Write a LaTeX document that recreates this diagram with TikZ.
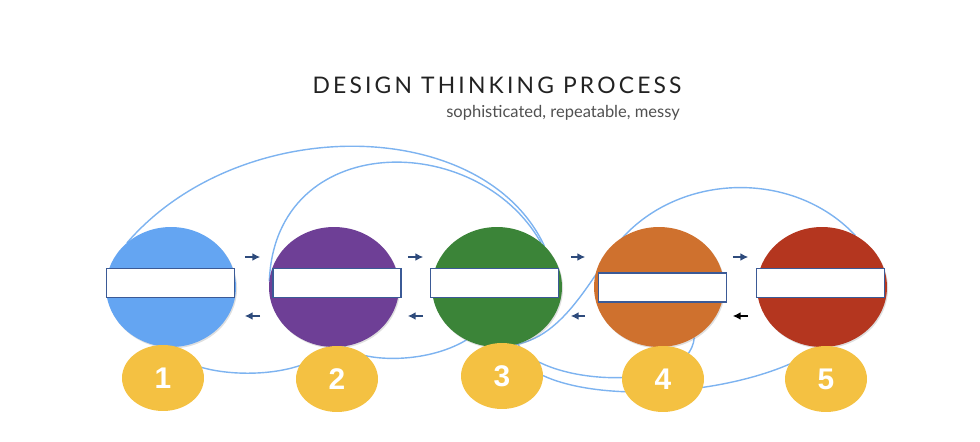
\documentclass[tikz,border=0pt]{standalone}
\usepackage{fontspec}
\usetikzlibrary{shapes.geometric,arrows.meta,backgrounds,shadows}
\newfontfamily\titlefont{Lato}
\newfontfamily\headfont[LetterSpace=14]{Lato}
\newfontfamily\numfont{Liberation Sans}
\definecolor{stepblue}{HTML}{64A5F2}
\definecolor{steppurple}{HTML}{6E3F96}
\definecolor{stepgreen}{HTML}{3B8438}
\definecolor{steporange}{HTML}{CF712E}
\definecolor{stepred}{HTML}{B4361F}
\definecolor{numyellow}{HTML}{F4C142}
\definecolor{loopblue}{HTML}{7DB3F0}
\definecolor{arrownavy}{HTML}{2E4B7C}
\definecolor{boxedge}{HTML}{3B5A96}
\definecolor{titlegray}{HTML}{222222}
\definecolor{subgray}{HTML}{505050}

\tikzset{
	phase/.style={ellipse, minimum width=2.6cm, minimum height=2.4cm, inner sep=0pt, outer sep=0pt,
		drop shadow={opacity=0.25, shadow xshift=0.6pt, shadow yshift=-0.8pt}},
	blank/.style={rectangle, fill=white, draw=boxedge, line width=1.1pt, minimum width=2.56cm, minimum height=0.58cm, inner sep=0pt},
	badge/.style={ellipse, fill=numyellow, minimum width=1.64cm, minimum height=1.32cm, inner sep=0pt, text=white,
		font=\numfont\bfseries\fontsize{17}{20}\selectfont},
	flow/.style={-{Latex[length=4.5pt,width=4.5pt]}, line width=0.85pt, draw=arrownavy, shorten >=5pt, shorten <=5pt},
	loop/.style={draw=loopblue, line width=0.8pt}
}

\begin{document}
\begin{tikzpicture}[x=0.02cm, y=-0.02cm]
	\useasboundingbox (0,0) rectangle (980,442);
	\node (title) at (497,85) {\headfont\fontsize{13}{15}\selectfont\color{titlegray}DESIGN THINKING PROCESS};
	\node (sub) at (563,113) {\titlefont\fontsize{9.4}{11}\selectfont\color{subgray}sophisticated, repeatable, messy};

	% the five phases
	\node[phase, fill=stepblue] (p1) at (171,287) {};
	\node[phase, fill=steppurple] (p2) at (334,287) {};
	\node[phase, fill=stepgreen] (p3) at (497,287) {};
	\node[phase, fill=steporange] (p4) at (659,287) {};
	\node[phase, fill=stepred] (p5) at (822,287) {};

	\node[blank] (b1) at (170.5,283) {};
	\node[blank] (b2) at (337,283) {};
	\node[blank] (b3) at (494.5,283) {};
	\node[blank] (b4) at (662.5,287.5) {};
	\node[blank] (b5) at (820.5,283) {};

	\node[badge] (n1) at (163,378) {1};
	\node[badge] (n2) at (337,379) {2};
	\node[badge] (n3) at (502,376) {3};
	\node[badge] (n4) at (663,379) {4};
	\node[badge] (n5) at (826,379) {5};

	% forward and back
	\draw[flow] ([yshift=0.6cm]p1.east) -- ([yshift=0.6cm]p2.west);
	\draw[flow] ([yshift=0.6cm]p2.east) -- ([yshift=0.6cm]p3.west);
	\draw[flow] ([yshift=0.6cm]p3.east) -- ([yshift=0.6cm]p4.west);
	\draw[flow] ([yshift=0.6cm]p4.east) -- ([yshift=0.6cm]p5.west);
	\draw[flow] ([yshift=-0.58cm]p2.west) -- ([yshift=-0.58cm]p1.east);
	\draw[flow] ([yshift=-0.58cm]p3.west) -- ([yshift=-0.58cm]p2.east);
	\draw[flow] ([yshift=-0.58cm]p4.west) -- ([yshift=-0.58cm]p3.east);
	\draw[flow, draw=black] ([yshift=-0.58cm]p5.west) -- ([yshift=-0.58cm]p4.east);

	% the messy loops, behind everything
	\begin{scope}[on background layer]
		\draw[loop] (p1.135) .. controls (240,112) and (483,115) .. (p3.41);
		\draw[loop] (p2.175) .. controls (275,130) and (477,129) .. (p3.45);
		\draw[loop] (p1.-93) .. controls (190,382) and (305,382) .. (p2.-95);
		\draw[loop] (p2.-80) .. controls (360,362) and (425,365) .. (p3.-120);
		\draw[loop] (p3.-70) .. controls (540,385) and (690,395) .. (p4.-55);
		\draw[loop] (p3.-75) .. controls (530,410) and (740,405) .. (n5.95);
		\coordinate (over) at (627,233);
		\draw[loop] (p3.-72) .. controls (570,335) and (597,263) .. (over)
			.. controls (688,172) and (796,172) .. (p5.57);
	\end{scope}
\end{tikzpicture}
\end{document}
